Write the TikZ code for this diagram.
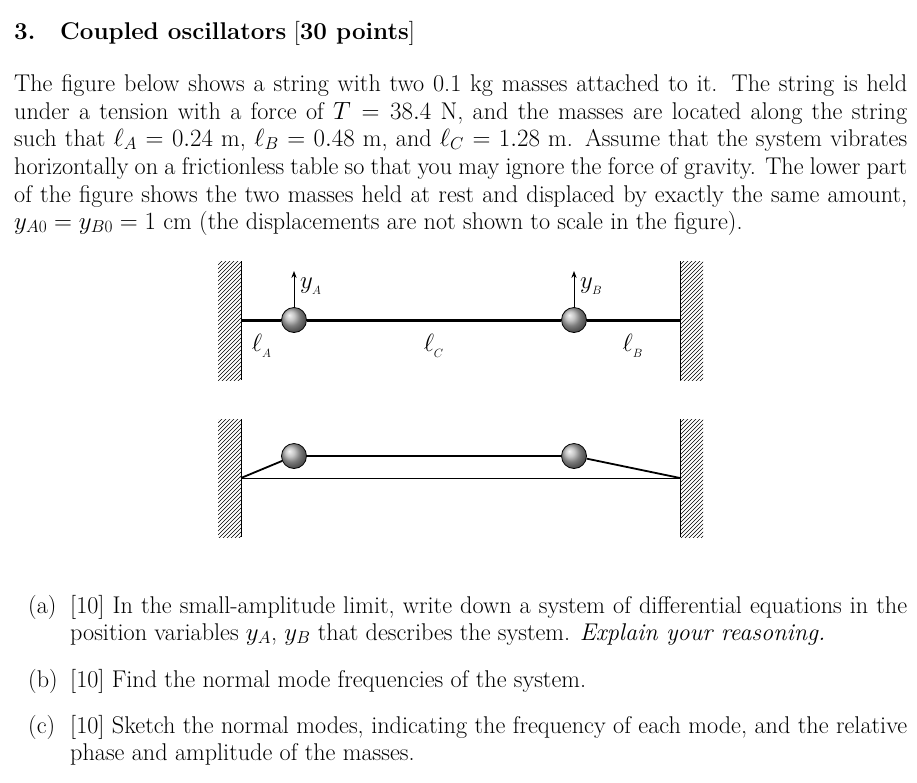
\documentclass[tikz,border=0pt]{standalone}
\usetikzlibrary{arrows.meta}
\begin{document}
\begin{tikzpicture}[x=1pt,y=-1pt,
  ln/.style={anchor=base west,inner sep=0pt,font=\fontsize{24.2}{28}\selectfont},
  mass/.style={circle,minimum size=25pt,inner sep=0pt,shading=ball,ball color=gray!60,draw=black,line width=0.8pt},
  str/.style={line width=3pt},
  lbl/.style={font=\fontsize{23}{26}\selectfont,inner sep=0pt}]
\useasboundingbox (0,0) rectangle (917,782);
\newcommand{\hatchwall}[4]{\begin{scope}\clip (#1,#2) rectangle (#3,#4);
  \foreach \k in {0,4,...,140}{\draw[line width=0.6pt] (#1,#2+\k) -- ++(30,-30);}\end{scope}}
% header
\node[ln] (h1) at (14,39) {\textbf{3.}};
\node[ln] (h2) at (60,39) {\textbf{Coupled oscillators} [\textbf{30 points}]};
\node[ln] (l1) at (14,91) {\makebox[893pt][s]{The figure below shows a string with two 0.1 kg masses attached to it. The string is held}};
\node[ln] (l2) at (14,119) {\makebox[893pt][s]{under a tension with a force of $T=38.4$ N, and the masses are located along the string}};
\node[ln] (l3) at (14,146) {\makebox[893pt][s]{such that $\ell_A=0.24$ m, $\ell_B=0.48$ m, and $\ell_C=1.28$ m. Assume that the system vibrates}};
\node[ln] (l4) at (14,174) {\makebox[893pt][s]{horizontally on a frictionless table so that you may ignore the force of gravity. The lower part}};
\node[ln] (l5) at (14,202) {\makebox[893pt][s]{of the figure shows the two masses held at rest and displaced by exactly the same amount,}};
\node[ln] (l6) at (14,229) {$y_{A0}=y_{B0}=1$ cm (the displacements are not shown to scale in the figure).};
% top figure
\hatchwall{218}{261}{241}{380}
\hatchwall{680}{261}{703}{380}
\draw[line width=1pt] (241,261) -- (241,380);
\draw[line width=1pt] (680,261) -- (680,380);
\coordinate (wl) at (241,320); \coordinate (wr) at (680,320);
\node[mass] (ma) at (294,320) {};
\node[mass] (mb) at (574,320) {};
\draw[str] (wl) -- (ma) -- (mb) -- (wr);
\coordinate (ta) at (294,271); \coordinate (tb) at (574,271);
\draw[-{Stealth[length=7pt]},line width=0.9pt] (ma.north) -- (ta);
\draw[-{Stealth[length=7pt]},line width=0.9pt] (mb.north) -- (tb);
\node[lbl,anchor=west] (ya) at (300,286) {$y_{_A}$};
\node[lbl,anchor=west] (yb) at (580,286) {$y_{_B}$};
\node[lbl] (la) at (262,346) {$\ell_{_A}$};
\node[lbl] (lc) at (434,346) {$\ell_{_C}$};
\node[lbl] (lb) at (633,346) {$\ell_{_B}$};
% bottom figure
\hatchwall{218}{419}{241}{537}
\hatchwall{680}{419}{703}{537}
\draw[line width=1pt] (241,419) -- (241,537);
\draw[line width=1pt] (680,419) -- (680,537);
\coordinate (bl) at (241,478); \coordinate (br) at (680,478);
\node[mass] (na) at (294,456) {};
\node[mass] (nb) at (574,456) {};
\draw[line width=0.8pt] (bl) -- (br);
\draw[line width=1.8pt] (bl) -- (na) -- (nb) -- (br);
% questions
\node[ln] (qa) at (28,613) {(a)};
\node[ln] (qa1) at (70,613) {\makebox[837pt][s]{[10] In the small-amplitude limit, write down a system of differential equations in the}};
\node[ln] (qa2) at (70,640) {position variables $y_A$, $y_B$ that describes the system. \textit{Explain your reasoning.}};
\node[ln] (qb) at (28,687) {(b)};
\node[ln] (qb1) at (70,687) {[10] Find the normal mode frequencies of the system.};
\node[ln] (qc) at (28,733) {(c)};
\node[ln] (qc1) at (70,733) {\makebox[837pt][s]{[10] Sketch the normal modes, indicating the frequency of each mode, and the relative}};
\node[ln] (qc2) at (70,760) {phase and amplitude of the masses.};
\end{tikzpicture}
\end{document}
